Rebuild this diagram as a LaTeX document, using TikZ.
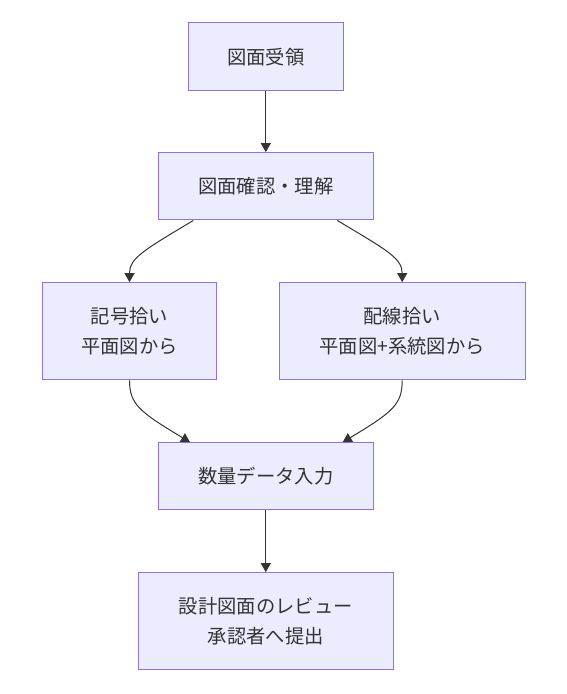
\documentclass[tikz,border=0pt]{standalone}
\usepackage{fontspec}
\setmainfont{Noto Sans CJK JP}
\usetikzlibrary{arrows.meta}
\definecolor{boxfill}{HTML}{ECECFF}
\definecolor{boxline}{HTML}{9370DB}
\definecolor{ink}{HTML}{333333}
\tikzset{
  box/.style={draw=boxline, fill=boxfill, line width=1pt, text=ink, align=center,
    inner sep=0pt, font=\fontsize{19.3}{29.4}\selectfont},
  flow/.style={draw=ink, line width=1pt, -{Triangle[length=9pt,width=10pt]}},
}
\begin{document}
\begin{tikzpicture}[x=1pt,y=-1pt]
\useasboundingbox (0,0) rectangle (566,694);
\node[box, minimum width=155pt, minimum height=68pt] (n1) at (265.8,56.7) {図面受領};
\node[box, minimum width=215pt, minimum height=67.3pt] (n2) at (265.8,186.3) {図面確認・理解};
\node[box, minimum width=174.4pt, minimum height=97.3pt] (n3) at (129.5,331.3) {記号拾い\\平面図から};
\node[box, minimum width=245.7pt, minimum height=97.3pt] (n4) at (402.2,331.3) {配線拾い\\平面図+系統図から};
\node[box, minimum width=215pt, minimum height=67.3pt] (n5) at (265.8,476.3) {数量データ入力};
\node[box, minimum width=255pt, minimum height=97.3pt] (n6) at (265.8,621.3) {設計図面のレビュー\\承認者へ提出};
\draw[flow] (n1.south) -- (n2.north);
\draw[flow] ([xshift=-72.5pt]n2.south) .. controls +(-50,30) and +(0,-24) .. (n3.north);
\draw[flow] ([xshift=71.5pt]n2.south) .. controls +(50,30) and +(0,-24) .. (n4.north);
\draw[flow] (n3.south) .. controls +(0,24) and +(-50,-30) .. ([xshift=-75.8pt]n5.north);
\draw[flow] (n4.south) .. controls +(0,24) and +(50,-30) .. ([xshift=76.9pt]n5.north);
\draw[flow] (n5.south) -- (n6.north);
\end{tikzpicture}
\end{document}
